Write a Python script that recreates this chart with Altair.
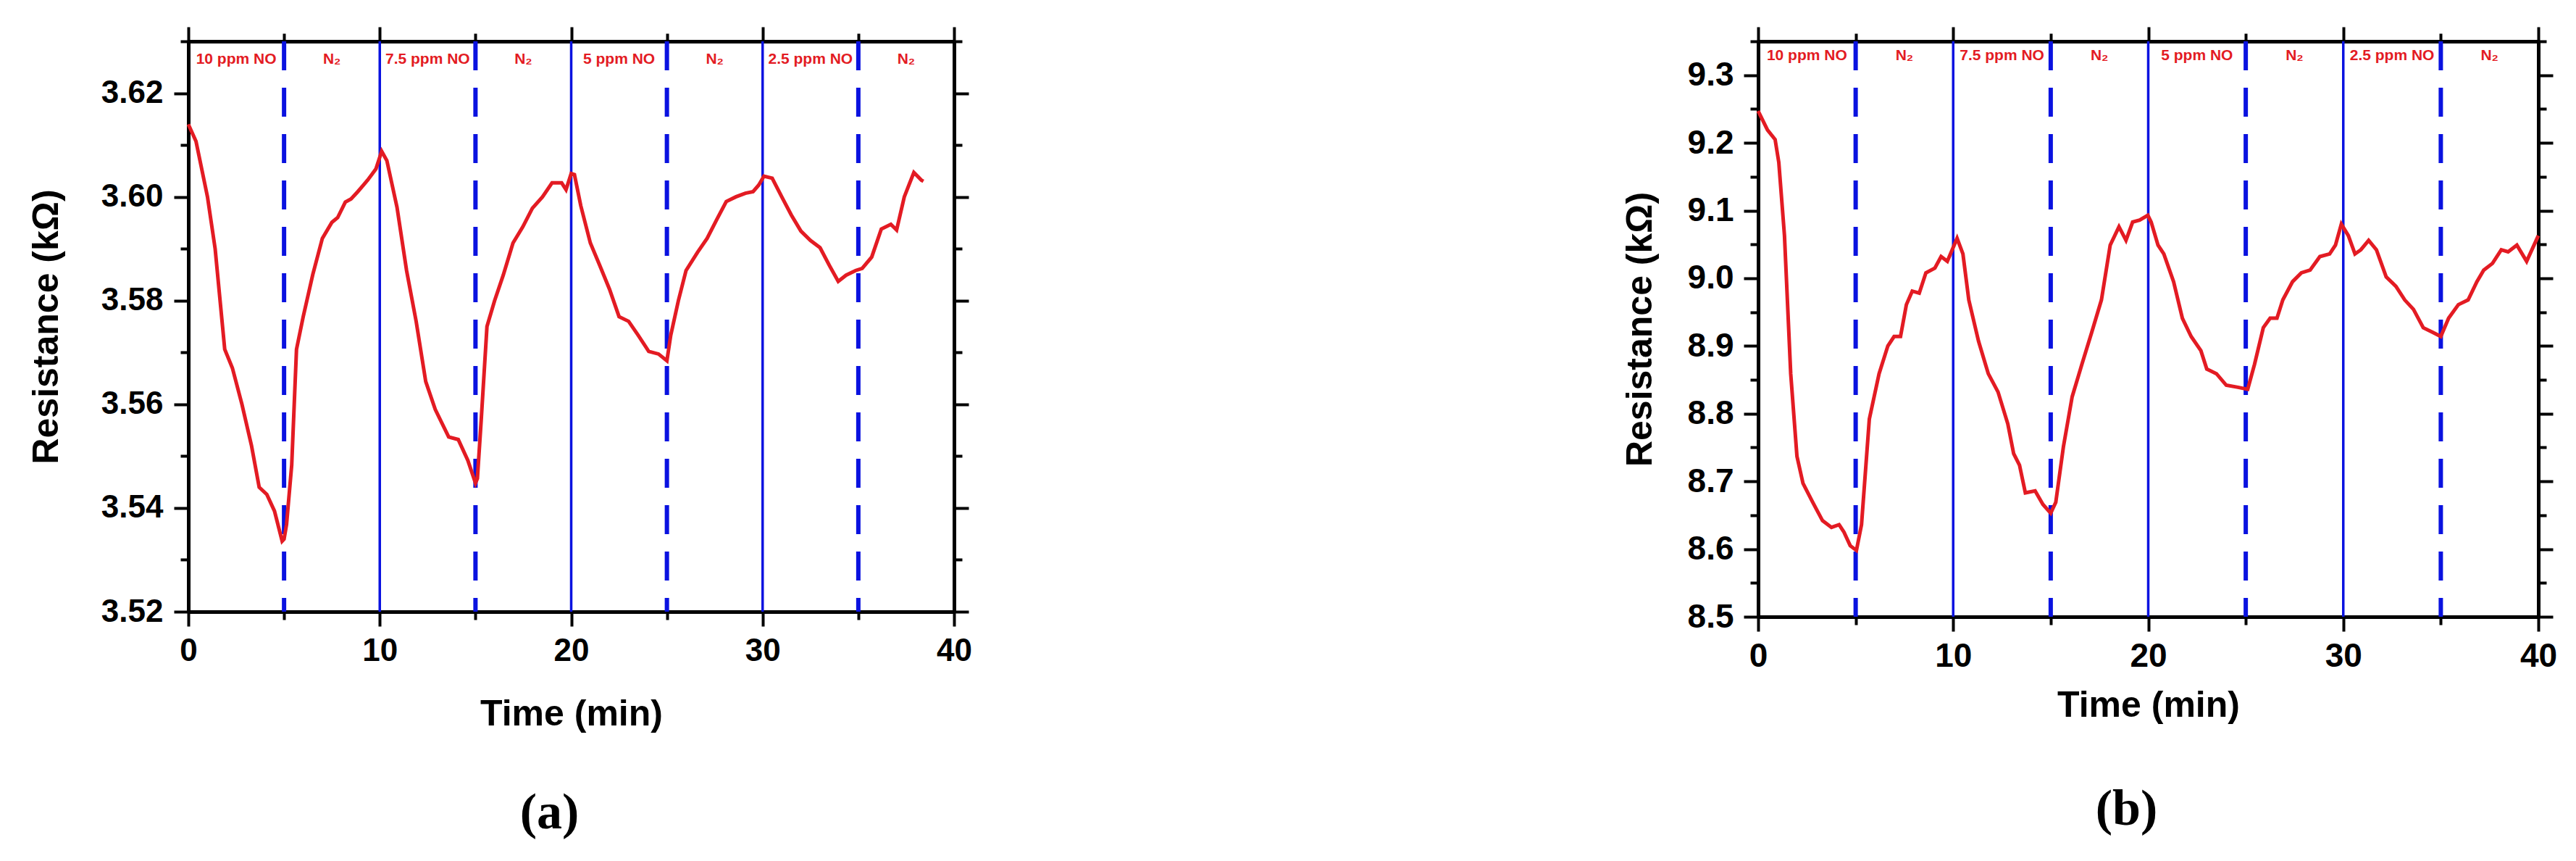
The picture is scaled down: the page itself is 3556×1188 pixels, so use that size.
import altair as alt
import pandas as pd

# ---------------- data ----------------
a_time = [0.0, 0.4, 1.0, 1.4, 1.9, 2.3, 2.8, 3.3, 3.7, 4.1, 4.5, 4.9, 5.0, 5.13, 5.4, 5.65,
          6.0, 6.5, 7.0, 7.5, 7.8, 8.2, 8.5, 8.85, 9.36, 9.8, 10.1, 10.37, 10.9, 11.4, 11.9,
          12.4, 12.9, 13.6, 14.1, 14.6, 15.0, 15.1, 15.3, 15.6, 16.0, 16.45, 16.96, 17.47,
          17.97, 18.5, 19.0, 19.5, 19.73, 20.0, 20.17, 20.5, 21.0, 21.5, 22.0, 22.5, 23.0,
          23.5, 24.05, 24.56, 25.0, 25.2, 25.6, 26.0, 26.6, 27.1, 27.6, 28.1, 28.6, 29.1,
          29.5, 29.8, 30.07, 30.5, 31.0, 31.5, 32.0, 32.5, 33.0, 33.5, 33.95, 34.36, 34.86,
          35.2, 35.7, 36.2, 36.7, 37.0, 37.4, 37.9, 38.3, 38.4]
a_res = [3.614, 3.6107, 3.600, 3.590, 3.5706, 3.567, 3.560, 3.552, 3.544, 3.5426, 3.5394,
         3.5336, 3.534, 3.5368, 3.5483, 3.5706, 3.5769, 3.585, 3.592, 3.5951, 3.596, 3.599,
         3.5996, 3.601, 3.6032, 3.6054, 3.6088, 3.607, 3.598, 3.5858, 3.576, 3.5644, 3.559,
         3.5537, 3.5532, 3.5492, 3.5448, 3.5457, 3.557, 3.575, 3.580, 3.5849, 3.5911, 3.5942,
         3.5978, 3.600, 3.6027, 3.6027, 3.6014, 3.6045, 3.6043, 3.5983, 3.5911, 3.5867,
         3.5822, 3.5769, 3.576, 3.5733, 3.5702, 3.5697, 3.5684, 3.5733, 3.580, 3.5858,
         3.5893, 3.592, 3.5956, 3.5991, 3.600, 3.6007, 3.601, 3.6023, 3.604, 3.6036, 3.600,
         3.5965, 3.5934, 3.5916, 3.5902, 3.5867, 3.5837, 3.5849, 3.5858, 3.5862, 3.5884,
         3.5938, 3.5947, 3.5936, 3.600, 3.6047, 3.6032, 3.6030]

b_time = [0.0, 0.48, 0.87, 1.06, 1.35, 1.67, 1.99, 2.3, 2.8, 3.3, 3.76, 4.15, 4.4, 4.72,
          5.04, 5.3, 5.7, 6.2, 6.65, 6.97, 7.3, 7.6, 7.9, 8.26, 8.6, 9.06, 9.38, 9.7, 10.2,
          10.5, 10.8, 11.3, 11.8, 12.3, 12.8, 13.1, 13.4, 13.7, 14.2, 14.6, 15.0, 15.26,
          15.65, 16.1, 16.6, 17.1, 17.6, 18.05, 18.5, 18.86, 19.2, 19.56, 19.98, 20.15, 20.5,
          20.8, 21.3, 21.75, 22.2, 22.7, 23.0, 23.5, 24.0, 24.6, 25.1, 25.45, 25.9, 26.25,
          26.6, 26.9, 27.4, 27.85, 28.3, 28.8, 29.3, 29.6, 29.9, 30.26, 30.6, 30.9, 31.3,
          31.7, 32.2, 32.7, 33.15, 33.6, 34.1, 34.6, 35.0, 35.4, 35.9, 36.4, 36.85, 37.2,
          37.65, 38.1, 38.45, 38.9, 39.4, 40.0]
b_res = [9.247, 9.219, 9.205, 9.171, 9.063, 8.859, 8.737, 8.697, 8.669, 8.642, 8.632, 8.636,
         8.625, 8.605, 8.598, 8.636, 8.792, 8.859, 8.900, 8.914, 8.914, 8.961, 8.981, 8.978,
         9.008, 9.015, 9.032, 9.025, 9.059, 9.036, 8.968, 8.907, 8.859, 8.832, 8.785, 8.741,
         8.724, 8.683, 8.686, 8.666, 8.653, 8.669, 8.751, 8.825, 8.873, 8.920, 8.968, 9.049,
         9.076, 9.056, 9.083, 9.086, 9.093, 9.083, 9.049, 9.036, 8.995, 8.941, 8.914, 8.893,
         8.866, 8.859, 8.842, 8.839, 8.836, 8.873, 8.927, 8.941, 8.941, 8.968, 8.995, 9.008,
         9.012, 9.032, 9.036, 9.049, 9.080, 9.063, 9.036, 9.042, 9.056, 9.042, 9.002, 8.988,
         8.968, 8.954, 8.927, 8.920, 8.914, 8.941, 8.961, 8.968, 8.995, 9.012, 9.022, 9.042,
         9.039, 9.049, 9.025, 9.063]

seg_labels = ["10 ppm NO", "N\u2082", "7.5 ppm NO", "N\u2082", "5 ppm NO", "N\u2082",
              "2.5 ppm NO", "N\u2082"]
seg_centers = [2.5, 7.5, 12.5, 17.5, 22.5, 27.5, 32.5, 37.5]
solid_x = [10, 20, 30]
dashed_x = [5, 15, 25, 35]

x_ticks = [0, 5, 10, 15, 20, 25, 30, 35, 40]
a_yticks = [3.52, 3.53, 3.54, 3.55, 3.56, 3.57, 3.58, 3.59, 3.60, 3.61, 3.62, 3.63]
b_yticks = [8.5, 8.55, 8.6, 8.65, 8.7, 8.75, 8.8, 8.85, 8.9, 8.95, 9.0, 9.05, 9.1,
            9.15, 9.2, 9.25, 9.3, 9.35]

RED = "#e31b23"
BLUE = "#0a12e0"
FONT = "Liberation Sans"


def panel(time, res, ydom, yticks, ymajor, yfmt, w, h, lab_size, title_size,
          x_lpad, x_tpad, y_lpad, y_tpad, text_y, caption, cap_offset):
    df = pd.DataFrame({"t": time, "r": res})
    xmajor = "datum.value % 10 == 0"
    xs = alt.Scale(domain=[0, 40], nice=False, zero=False)
    ys = alt.Scale(domain=ydom, nice=False, zero=False)
    tick_x = {"condition": {"test": xmajor, "value": 20}, "value": 11}
    tick_y = {"condition": {"test": ymajor, "value": 20}, "value": 11}
    common = dict(domainColor="black", domainWidth=5, tickColor="black", tickWidth=4,
                  grid=False, labelFont=FONT, labelFontWeight="bold", labelFontSize=lab_size,
                  labelColor="black", titleFont=FONT, titleFontWeight="bold",
                  titleFontSize=title_size, titleColor="black", labelOverlap=False,
                  labelFlush=False)

    x_bottom = alt.Axis(orient="bottom", values=x_ticks, title="Time (min)", format="d",
                        labelExpr=f"{xmajor} ? datum.label : ''", tickSize=tick_x,
                        labelPadding=x_lpad, titlePadding=x_tpad, **common)
    y_left = alt.Axis(orient="left", values=yticks, title="Resistance (k\u03a9)", format=yfmt,
                      labelExpr=f"{ymajor} ? datum.label : ''", tickSize=tick_y,
                      labelPadding=y_lpad, titlePadding=y_tpad, **common)
    x_top = alt.Axis(orient="top", values=x_ticks, title=None, labels=False,
                     tickSize=tick_x, **common)
    y_right = alt.Axis(orient="right", values=yticks, title=None, labels=False,
                       tickSize=tick_y, **common)

    line = alt.Chart(df).mark_line(color=RED, strokeWidth=5).encode(
        x=alt.X("t:Q", scale=xs, axis=x_bottom),
        y=alt.Y("r:Q", scale=ys, axis=y_left),
    )
    frame = alt.Chart(df).mark_line(opacity=0).encode(
        x=alt.X("t:Q", scale=xs, axis=x_top),
        y=alt.Y("r:Q", scale=ys, axis=y_right),
    )
    solid = alt.Chart(pd.DataFrame({"x": solid_x})).mark_rule(
        color=BLUE, strokeWidth=3.5).encode(
        x=alt.X("x:Q", scale=xs, axis=None), y=alt.value(0), y2=alt.value(h))
    dashed = alt.Chart(pd.DataFrame({"x": dashed_x})).mark_rule(
        color=BLUE, strokeWidth=6, strokeDash=[40, 24]).encode(
        x=alt.X("x:Q", scale=xs, axis=None), y=alt.value(0), y2=alt.value(h))
    labels = alt.Chart(pd.DataFrame({"x": seg_centers, "lab": seg_labels})).mark_text(
        color=RED, font=FONT, fontWeight="bold", fontSize=21, baseline="middle",
        align="center").encode(
        x=alt.X("x:Q", scale=xs, axis=None), y=alt.value(text_y), text="lab:N")

    return alt.layer(solid, dashed, labels, line, frame).resolve_axis(
        x="independent", y="independent").properties(
        width=w, height=h,
        title=alt.TitleParams(caption, orient="bottom", font="Liberation Serif",
                              fontSize=70, fontWeight="bold", color="black",
                              frame="group", anchor="middle", dx=-30, offset=cap_offset))


pa = panel(a_time, a_res, [3.52, 3.63], a_yticks,
           "abs(datum.value*50 - round(datum.value*50)) < 0.01", ".2f",
           1057, 787, 44, 50, 12, 40, 15, 50, 25, "(a)", 78)
pb = panel(b_time, b_res, [8.5, 9.35], b_yticks,
           "abs(datum.value*10 - round(datum.value*10)) < 0.01", ".1f",
           1077, 794, 46, 50, 12, 20, 14, 40, 20, "(b)", 85)

chart = alt.hconcat(pa, pb, spacing=896).properties(
    padding={"left": 30, "top": 25, "right": 10, "bottom": 0}
).configure_view(stroke=None).configure(background="white")

chart.save("out.html", embed_options={"renderer": "svg", "actions": False})
